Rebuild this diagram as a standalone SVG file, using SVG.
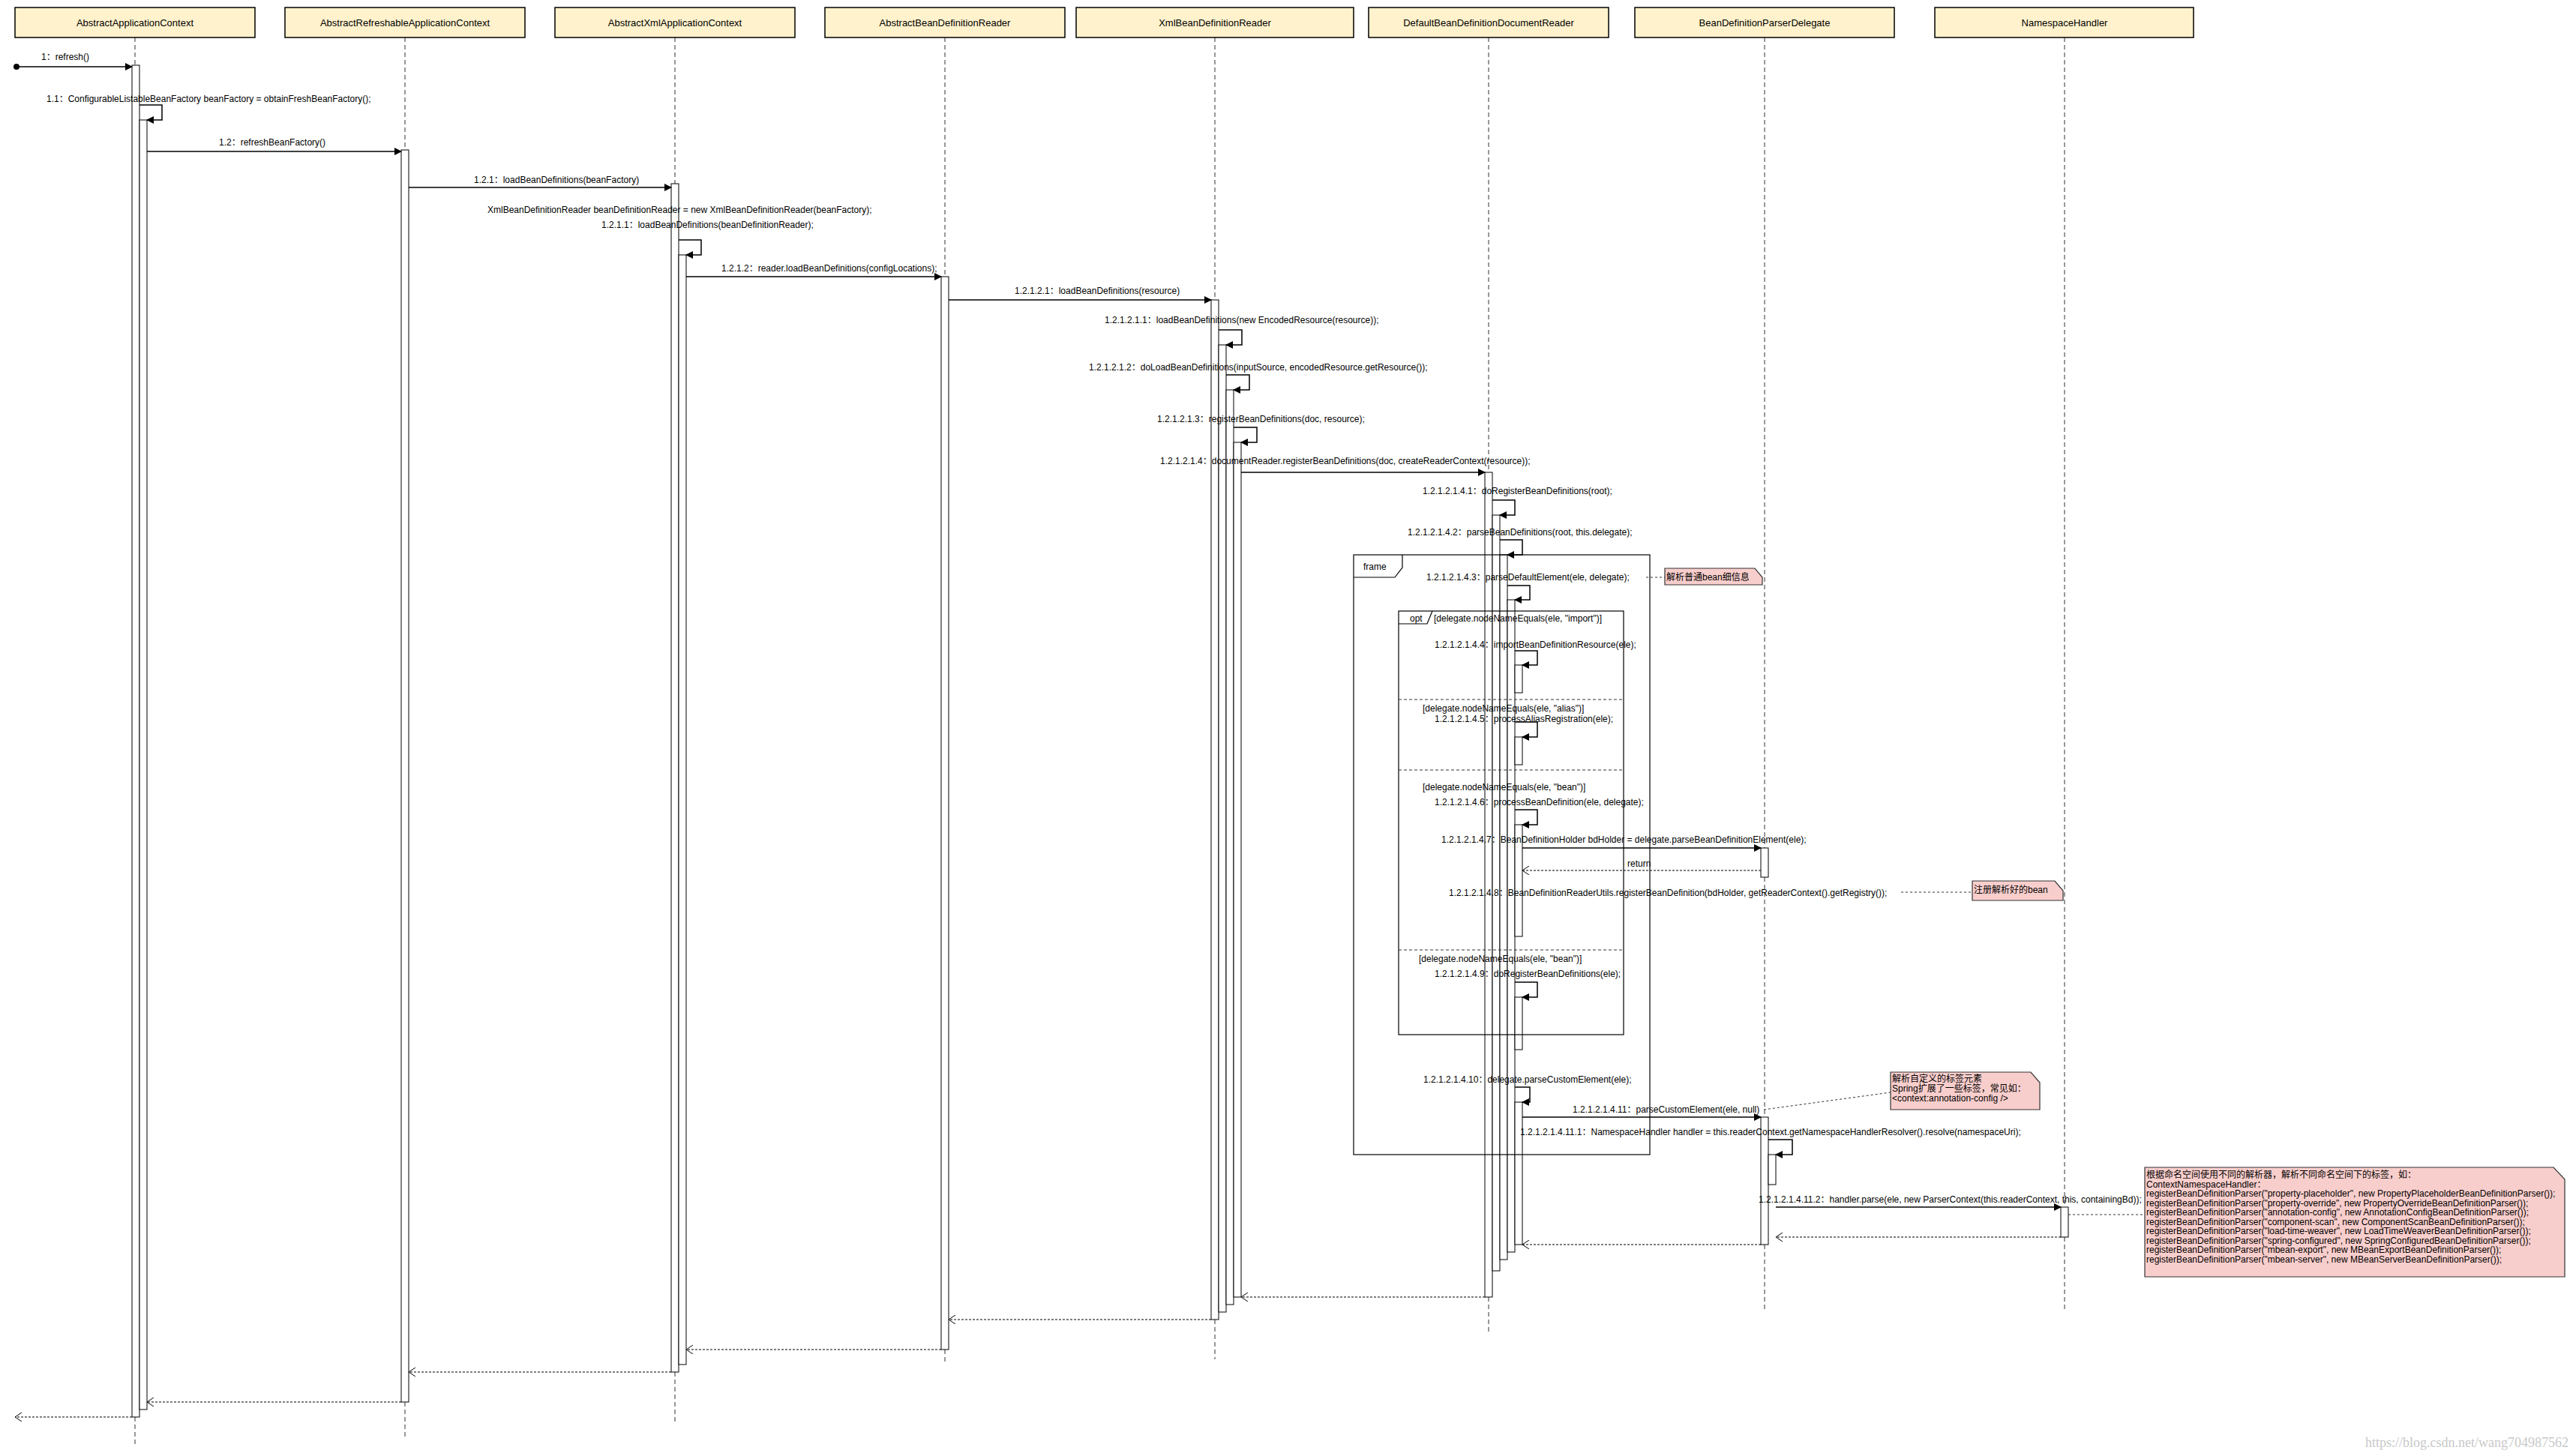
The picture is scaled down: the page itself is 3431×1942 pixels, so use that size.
<svg xmlns="http://www.w3.org/2000/svg" width="3431" height="1942" viewBox="0 0 3431 1942">
<style>
text{font-family:"Liberation Sans",Arial,"Noto Sans CJK SC",sans-serif;font-size:12px;fill:#000}
.hd{fill:#fff2cc;stroke:#000;stroke-width:1.5}
.ht{text-anchor:middle;font-size:13px}
.ll{stroke:#333;stroke-dasharray:6 4;fill:none}
.act{fill:#fff;stroke:#000;stroke-width:1}
.msg{stroke:#000;stroke-width:1.5;fill:none;marker-end:url(#fa)}
.ret{stroke:#000;stroke-width:1.2;stroke-dasharray:3 2;fill:none;marker-end:url(#oa)}
.nl{stroke:#333;stroke-dasharray:3 3;fill:none}
.note{fill:#f8cecc;stroke:#333;stroke-width:1.2}
.fr{fill:none;stroke:#000;stroke-width:1.2}
.sep{stroke:#333;stroke-dasharray:4 3}
</style>
<defs>
<marker id="fa" markerWidth="10" markerHeight="10" refX="9" refY="5" orient="auto" markerUnits="userSpaceOnUse"><path d="M0,0 L10,5 L0,10 Z" fill="#000"/></marker>
<marker id="oa" markerWidth="10" markerHeight="12" refX="9" refY="6" orient="auto" markerUnits="userSpaceOnUse"><path d="M0,0 L9,6 L0,12" fill="none" stroke="#000"/></marker>
</defs>
<rect width="3431" height="1942" fill="#fff"/>
<g id="lifelines">
<line class="ll" x1="180" y1="50" x2="180" y2="1930"/>
<line class="ll" x1="540" y1="50" x2="540" y2="1920"/>
<line class="ll" x1="900" y1="50" x2="900" y2="1900"/>
<line class="ll" x1="1260" y1="50" x2="1260" y2="1820"/>
<line class="ll" x1="1620" y1="50" x2="1620" y2="1813"/>
<line class="ll" x1="1985" y1="50" x2="1985" y2="1780"/>
<line class="ll" x1="2353" y1="50" x2="2353" y2="1750"/>
<line class="ll" x1="2753" y1="50" x2="2753" y2="1750"/>
</g>
<g id="n1"><rect class="hd" x="20" y="10" width="320" height="40"/><text class="ht" x="180" y="35">AbstractApplicationContext</text></g>
<g id="n2"><rect class="hd" x="380" y="10" width="320" height="40"/><text class="ht" x="540" y="35">AbstractRefreshableApplicationContext</text></g>
<g id="n3"><rect class="hd" x="740" y="10" width="320" height="40"/><text class="ht" x="900" y="35">AbstractXmlApplicationContext</text></g>
<g id="n4"><rect class="hd" x="1100" y="10" width="320" height="40"/><text class="ht" x="1260" y="35">AbstractBeanDefinitionReader</text></g>
<g id="n5"><rect class="hd" x="1435" y="10" width="370" height="40"/><text class="ht" x="1620" y="35">XmlBeanDefinitionReader</text></g>
<g id="n6"><rect class="hd" x="1825" y="10" width="320" height="40"/><text class="ht" x="1985" y="35">DefaultBeanDefinitionDocumentReader</text></g>
<g id="n7"><rect class="hd" x="2180" y="10" width="346" height="40"/><text class="ht" x="2353" y="35">BeanDefinitionParserDelegate</text></g>
<g id="n8"><rect class="hd" x="2580" y="10" width="345" height="40"/><text class="ht" x="2753" y="35">NamespaceHandler</text></g>

<g id="activations">
<rect class="act" x="176" y="87" width="10" height="1803"/>
<rect class="act" x="186" y="160" width="10" height="1720"/>
<rect class="act" x="535" y="200" width="10" height="1670"/>
<rect class="act" x="895" y="245" width="10" height="1585"/>
<rect class="act" x="905" y="340" width="10" height="1480"/>
<rect class="act" x="1255" y="369" width="10" height="1431"/>
<rect class="act" x="1615" y="400" width="10" height="1360"/>
<rect class="act" x="1625" y="460" width="10" height="1290"/>
<rect class="act" x="1635" y="520" width="10" height="1220"/>
<rect class="act" x="1645" y="590" width="10" height="1140"/>
<rect class="act" x="1980" y="630" width="10" height="1100"/>
<rect class="act" x="1990" y="687" width="10" height="1008"/>
<rect class="act" x="2000" y="740" width="10" height="940"/>
<rect class="act" x="2010" y="800" width="10" height="870"/>
<rect class="act" x="2020" y="887" width="10" height="37"/>
<rect class="act" x="2020" y="983" width="10" height="37"/>
<rect class="act" x="2020" y="1100" width="10" height="149"/>
<rect class="act" x="2020" y="1330" width="10" height="70"/>
<rect class="act" x="2020" y="1470" width="10" height="190"/>
<rect class="act" x="2348" y="1131" width="10" height="39"/>
<rect class="act" x="2348" y="1490" width="10" height="170"/>
<rect class="act" x="2358" y="1540" width="10" height="40"/>
<rect class="act" x="2748" y="1610" width="10" height="40"/>
</g>

<g id="frames">
<rect class="fr" x="1805" y="740" width="395" height="800"/>
<path class="fr" d="M1805,770 H1860 L1870,757 V740"/>
<text x="1818" y="760">frame</text>
<rect class="fr" x="1865" y="815" width="300" height="565"/>
<path class="fr" d="M1865,832 H1903 L1910,815"/>
<text x="1880" y="829">opt</text>
<text x="1912" y="829">[delegate.nodeNameEquals(ele, "import")]</text>
<line class="sep" x1="1865" y1="933" x2="2165" y2="933"/>
<text x="1897" y="949">[delegate.nodeNameEquals(ele, "alias")]</text>
<line class="sep" x1="1865" y1="1027" x2="2165" y2="1027"/>
<text x="1897" y="1054">[delegate.nodeNameEquals(ele, "bean")]</text>
<line class="sep" x1="1865" y1="1267" x2="2165" y2="1267"/>
<text x="1892" y="1283">[delegate.nodeNameEquals(ele, "bean")]</text>
</g>

<g id="connectors">
<circle cx="22" cy="89" r="4" fill="#000"/>
<line class="msg" x1="22" y1="89" x2="176" y2="89"/>
<path class="msg" d="M186,140 H216 V160 H196"/>
<line class="msg" x1="196" y1="202" x2="535" y2="202"/>
<line class="msg" x1="545" y1="250" x2="895" y2="250"/>
<path class="msg" d="M905,320 H935 V340 H915"/>
<line class="msg" x1="915" y1="369" x2="1255" y2="369"/>
<line class="msg" x1="1265" y1="400" x2="1615" y2="400"/>
<path class="msg" d="M1625,440 H1656 V460 H1635"/>
<path class="msg" d="M1635,500 H1666 V520 H1645"/>
<path class="msg" d="M1645,570 H1676 V590 H1655"/>
<line class="msg" x1="1655" y1="630" x2="1980" y2="630"/>
<path class="msg" d="M1990,667 H2020 V687 H2000"/>
<path class="msg" d="M2000,720 H2030 V740 H2010"/>
<path class="msg" d="M2010,781 H2040 V800 H2020"/>
<path class="msg" d="M2020,868 H2050 V887 H2030"/>
<path class="msg" d="M2020,963 H2050 V983 H2030"/>
<path class="msg" d="M2020,1080 H2050 V1100 H2030"/>
<line class="msg" x1="2030" y1="1131" x2="2348" y2="1131"/>
<line class="ret" x1="2348" y1="1161" x2="2030" y2="1161"/>
<path class="msg" d="M2020,1310 H2050 V1330 H2030"/>
<path class="msg" d="M2020,1450 H2040 V1470 H2030"/>
<line class="msg" x1="2030" y1="1490" x2="2348" y2="1490"/>
<path class="msg" d="M2358,1520 H2390 V1540 H2368"/>
<line class="msg" x1="2368" y1="1610" x2="2748" y2="1610"/>
<line class="ret" x1="2748" y1="1650" x2="2368" y2="1650"/>
<line class="ret" x1="2348" y1="1660" x2="2030" y2="1660"/>
<line class="ret" x1="1980" y1="1730" x2="1655" y2="1730"/>
<line class="ret" x1="1615" y1="1760" x2="1265" y2="1760"/>
<line class="ret" x1="1255" y1="1800" x2="915" y2="1800"/>
<line class="ret" x1="895" y1="1830" x2="545" y2="1830"/>
<line class="ret" x1="535" y1="1870" x2="196" y2="1870"/>
<line class="ret" x1="176" y1="1890" x2="20" y2="1890"/>
<line class="nl" x1="2195" y1="770" x2="2220" y2="770"/>
<line class="nl" x1="2535" y1="1190" x2="2630" y2="1190"/>
<line class="nl" x1="2352" y1="1480" x2="2521" y2="1457"/>
<line class="nl" x1="2758" y1="1620" x2="2860" y2="1620"/>
</g>

<g id="labels">
<text x="55" y="80">1：refresh()</text>
<text x="62" y="136">1.1：ConfigurableListableBeanFactory beanFactory = obtainFreshBeanFactory();</text>
<text x="292" y="194">1.2：refreshBeanFactory()</text>
<text x="632" y="244">1.2.1：loadBeanDefinitions(beanFactory)</text>
<text x="650" y="284">XmlBeanDefinitionReader beanDefinitionReader = new XmlBeanDefinitionReader(beanFactory);</text>
<text x="802" y="304">1.2.1.1：loadBeanDefinitions(beanDefinitionReader);</text>
<text x="962" y="362">1.2.1.2：reader.loadBeanDefinitions(configLocations);</text>
<text x="1353" y="392">1.2.1.2.1：loadBeanDefinitions(resource)</text>
<text x="1473" y="431">1.2.1.2.1.1：loadBeanDefinitions(new EncodedResource(resource));</text>
<text x="1452" y="494">1.2.1.2.1.2：doLoadBeanDefinitions(inputSource, encodedResource.getResource());</text>
<text x="1543" y="563">1.2.1.2.1.3：registerBeanDefinitions(doc, resource);</text>
<text x="1547" y="619">1.2.1.2.1.4：documentReader.registerBeanDefinitions(doc, createReaderContext(resource));</text>
<text x="1897" y="659">1.2.1.2.1.4.1：doRegisterBeanDefinitions(root);</text>
<text x="1877" y="714">1.2.1.2.1.4.2：parseBeanDefinitions(root, this.delegate);</text>
<text x="1902" y="774">1.2.1.2.1.4.3：parseDefaultElement(ele, delegate);</text>
<text x="1913" y="864">1.2.1.2.1.4.4：importBeanDefinitionResource(ele);</text>
<text x="1913" y="963">1.2.1.2.1.4.5：processAliasRegistration(ele);</text>
<text x="1913" y="1074">1.2.1.2.1.4.6：processBeanDefinition(ele, delegate);</text>
<text x="1922" y="1124">1.2.1.2.1.4.7：BeanDefinitionHolder bdHolder = delegate.parseBeanDefinitionElement(ele);</text>
<text x="2170" y="1156">return</text>
<text x="1932" y="1195">1.2.1.2.1.4.8：BeanDefinitionReaderUtils.registerBeanDefinition(bdHolder, getReaderContext().getRegistry());</text>
<text x="1913" y="1303">1.2.1.2.1.4.9：doRegisterBeanDefinitions(ele);</text>
<text x="1898" y="1444">1.2.1.2.1.4.10：delegate.parseCustomElement(ele);</text>
<text x="2097" y="1484">1.2.1.2.1.4.11：parseCustomElement(ele, null)</text>
<text x="2027" y="1514">1.2.1.2.1.4.11.1：NamespaceHandler handler = this.readerContext.getNamespaceHandlerResolver().resolve(namespaceUri);</text>
<text x="2345" y="1604">1.2.1.2.1.4.11.2：handler.parse(ele, new ParserContext(this.readerContext, this, containingBd));</text>
</g>

<g id="note1"><path class="note" d="M2220,758 H2340 L2350,770 V780 H2220 Z"/><text x="2222" y="774">解析普通bean细信息</text></g>
<g id="note2"><path class="note" d="M2630,1175 H2740 L2751,1188 V1201 H2630 Z"/><text x="2632" y="1191">注册解析好的bean</text></g>
<g id="note3"><path class="note" d="M2521,1430 H2708 L2720,1444 V1480 H2521 Z"/>
<text x="2523" y="1443">解析自定义的标签元素</text><text x="2523" y="1456">Spring扩展了一些标签，常见如：</text><text x="2523" y="1469">&lt;context:annotation-config /&gt;</text></g>
<g id="note4"><path class="note" d="M2860,1557 H3405 L3420,1573 V1703 H2860 Z"/>
<text x="2862" y="1571">根据命名空间使用不同的解析器，解析不同命名空间下的标签，如：</text>
<text x="2862" y="1583.5">ContextNamespaceHandler：</text>
<text x="2862" y="1596">registerBeanDefinitionParser("property-placeholder", new PropertyPlaceholderBeanDefinitionParser());</text>
<text x="2862" y="1608.5">registerBeanDefinitionParser("property-override", new PropertyOverrideBeanDefinitionParser());</text>
<text x="2862" y="1621">registerBeanDefinitionParser("annotation-config", new AnnotationConfigBeanDefinitionParser());</text>
<text x="2862" y="1633.5">registerBeanDefinitionParser("component-scan", new ComponentScanBeanDefinitionParser());</text>
<text x="2862" y="1646">registerBeanDefinitionParser("load-time-weaver", new LoadTimeWeaverBeanDefinitionParser());</text>
<text x="2862" y="1658.5">registerBeanDefinitionParser("spring-configured", new SpringConfiguredBeanDefinitionParser());</text>
<text x="2862" y="1671">registerBeanDefinitionParser("mbean-export", new MBeanExportBeanDefinitionParser());</text>
<text x="2862" y="1683.5">registerBeanDefinitionParser("mbean-server", new MBeanServerBeanDefinitionParser());</text>
</g>
<text x="3425" y="1930" style="text-anchor:end;font-size:18px;fill:#c8c8c8;font-family:'Liberation Serif',serif">https://blog.csdn.net/wang704987562</text>
</svg>
